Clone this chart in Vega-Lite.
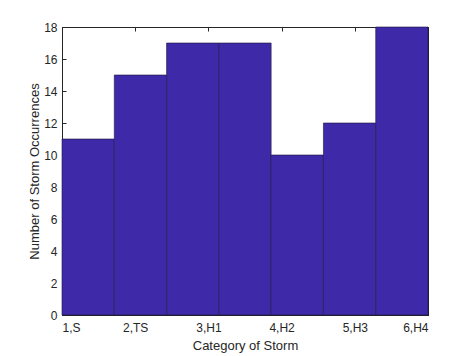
{
  "$schema": "https://vega.github.io/schema/vega-lite/v6.json",
  "autosize": "none",
  "padding": {"left": 62, "top": 27, "right": 46, "bottom": 41},
  "width": 366,
  "height": 288,
  "background": "white",
  "config": {
    "view": {"stroke": "#262626", "strokeWidth": 1},
    "font": "Liberation Sans",
    "axis": {
      "labelFont": "Liberation Sans",
      "titleFont": "Liberation Sans",
      "labelFontSize": 12,
      "titleFontSize": 13,
      "titleFontWeight": "normal",
      "labelColor": "#262626",
      "titleColor": "#262626",
      "tickColor": "#262626",
      "domainColor": "#262626",
      "grid": false,
      "tickSize": -4
    }
  },
  "data": {
    "values": [
      {"start": 1.0, "end": 1.7142857, "count": 11},
      {"start": 1.7142857, "end": 2.4285714, "count": 15},
      {"start": 2.4285714, "end": 3.1428571, "count": 17},
      {"start": 3.1428571, "end": 3.8571429, "count": 17},
      {"start": 3.8571429, "end": 4.5714286, "count": 10},
      {"start": 4.5714286, "end": 5.2857143, "count": 12},
      {"start": 5.2857143, "end": 6.0, "count": 18}
    ]
  },
  "layer": [
    {
      "mark": {"type": "bar", "color": "#3e29a8", "stroke": "#1a1a40", "strokeWidth": 0.6},
      "encoding": {
        "x": {
          "field": "start", "type": "quantitative",
          "scale": {"domain": [1, 6], "nice": false, "zero": false},
          "axis": {
            "values": [1, 2, 3, 4, 5, 6],
            "labelExpr": "datum.value == 1 ? '1,S' : datum.value == 2 ? '2,TS' : datum.value == 3 ? '3,H1' : datum.value == 4 ? '4,H2' : datum.value == 5 ? '5,H3' : '6,H4'",
            "title": "Category of Storm",
            "labelPadding": 11,
            "titlePadding": 6
          }
        },
        "x2": {"field": "end"},
        "y": {
          "field": "count", "type": "quantitative",
          "scale": {"domain": [0, 18], "nice": false},
          "axis": {
            "values": [0, 2, 4, 6, 8, 10, 12, 14, 16, 18],
            "title": "Number of Storm Occurrences",
            "labelPadding": 9,
            "titlePadding": 2
          }
        },
        "y2": {"datum": 0}
      }
    },
    {
      "mark": {"type": "bar", "opacity": 0},
      "encoding": {
        "x": {
          "field": "start", "type": "quantitative",
          "scale": {"domain": [1, 6], "nice": false, "zero": false},
          "axis": {"orient": "top", "values": [1, 2, 3, 4, 5, 6], "labels": false, "title": null}
        },
        "x2": {"field": "end"},
        "y": {
          "field": "count", "type": "quantitative",
          "scale": {"domain": [0, 18], "nice": false},
          "axis": {"orient": "right", "values": [0, 2, 4, 6, 8, 10, 12, 14, 16, 18], "labels": false, "title": null}
        },
        "y2": {"datum": 0}
      }
    }
  ],
  "resolve": {"axis": {"x": "independent", "y": "independent"}}
}
